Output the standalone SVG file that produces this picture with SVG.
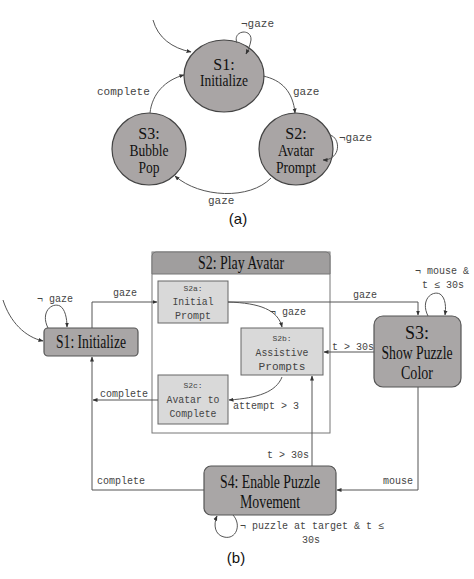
<svg xmlns="http://www.w3.org/2000/svg" width="474" height="579" viewBox="0 0 474 579">
<defs>
<marker id="ah" viewBox="0 0 10 10" refX="9" refY="5" markerWidth="5" markerHeight="5" orient="auto" markerUnits="userSpaceOnUse">
<path d="M0,1 L10,5 L0,9 z" fill="#333"/>
</marker>
</defs>
<style>
.st{fill:#a9a5a5;stroke:#444;stroke-width:1.2}
.bx{fill:#a9a6a6;stroke:#555;stroke-width:1.2}
.in{fill:#d9d9d9;stroke:#666;stroke-width:1}
.ct{fill:#fff;stroke:#777;stroke-width:1}
.hd{fill:#a09e9e;stroke:#777;stroke-width:1}
.ln{fill:none;stroke:#555;stroke-width:1;marker-end:url(#ah)}
.sr{font-family:"Liberation Serif",serif;fill:#111;text-anchor:middle}
.mo{font-family:"Liberation Mono",monospace;fill:#444}
.mc{font-family:"Liberation Mono",monospace;fill:#444;text-anchor:middle}
.cap{font-family:"Liberation Sans",sans-serif;fill:#111;text-anchor:middle;font-size:15px}
</style>
<rect width="474" height="579" fill="#fff"/>

<!-- (a) -->
<g id="a-S1"><ellipse class="st" cx="224" cy="76" rx="40" ry="36"/>
<text class="sr" x="224" y="70" font-size="16">S1:</text>
<text class="sr" x="224" y="86" font-size="16" textLength="48" lengthAdjust="spacingAndGlyphs">Initialize</text></g>
<g id="a-S2"><ellipse class="st" cx="296" cy="149" rx="37" ry="36"/>
<text class="sr" x="296" y="139" font-size="16">S2:</text>
<text class="sr" x="296" y="156" font-size="16" textLength="36" lengthAdjust="spacingAndGlyphs">Avatar</text>
<text class="sr" x="296" y="173" font-size="16" textLength="40" lengthAdjust="spacingAndGlyphs">Prompt</text></g>
<g id="a-S3"><ellipse class="st" cx="149" cy="149" rx="37" ry="36"/>
<text class="sr" x="149" y="139" font-size="16">S3:</text>
<text class="sr" x="149" y="156" font-size="16" textLength="39" lengthAdjust="spacingAndGlyphs">Bubble</text>
<text class="sr" x="149" y="173" font-size="16" textLength="21" lengthAdjust="spacingAndGlyphs">Pop</text></g>

<g id="a-connectors">
<path class="ln" d="M153,20 C158,38 172,48 191,52"/>
<path class="ln" d="M237,43 C232,30 252,28 251,40 C250,46 248,50 246,54"/>
<path class="ln" d="M263,76 C282,80 293,92 295,113"/>
<path class="ln" d="M330,135 C341,138 341,160 323,160"/>
<path class="ln" d="M271,178 C250,200 200,198 175,176"/>
<path class="ln" d="M150,113 C152,94 165,80 184,75"/>
<text class="mo" x="241" y="27" font-size="11">¬gaze</text>
<text class="mo" x="293" y="95" font-size="11">gaze</text>
<text class="mo" x="339" y="141" font-size="11">¬gaze</text>
<text class="mo" x="208" y="204" font-size="11">gaze</text>
<text class="mo" x="97" y="95" font-size="11">complete</text>
</g>
<text class="cap" x="238" y="224">(a)</text>

<!-- (b) -->
<g id="b-S2"><rect class="ct" x="152" y="252" width="178" height="181"/>
<path class="hd" d="M152,274 L152,256 Q152,252 156,252 L326,252 Q330,252 330,256 L330,274 Z"/>
<text class="sr" x="241" y="269" font-size="18" textLength="86" lengthAdjust="spacingAndGlyphs">S2: Play Avatar</text></g>
<g id="b-S2a"><rect class="in" x="158" y="281" width="70" height="42"/>
<text class="mc" x="193" y="291" font-size="8">S2a:</text>
<text class="mc" x="193" y="305" font-size="11" textLength="41" lengthAdjust="spacingAndGlyphs">Initial</text>
<text class="mc" x="193" y="319" font-size="11" textLength="36" lengthAdjust="spacingAndGlyphs">Prompt</text></g>
<g id="b-S2b"><rect class="in" x="241" y="328" width="82" height="47"/>
<text class="mc" x="282" y="341" font-size="8">S2b:</text>
<text class="mc" x="282" y="356" font-size="11" textLength="53" lengthAdjust="spacingAndGlyphs">Assistive</text>
<text class="mc" x="282" y="370" font-size="11" textLength="47" lengthAdjust="spacingAndGlyphs">Prompts</text></g>
<g id="b-S2c"><rect class="in" x="158" y="375" width="70" height="49"/>
<text class="mc" x="193" y="388" font-size="8">S2c:</text>
<text class="mc" x="193" y="403" font-size="11" textLength="53" lengthAdjust="spacingAndGlyphs">Avatar to</text>
<text class="mc" x="193" y="417" font-size="11" textLength="47" lengthAdjust="spacingAndGlyphs">Complete</text></g>
<g id="b-S1"><rect class="bx" x="44" y="328" width="94" height="28" rx="4"/>
<text class="sr" x="91" y="348" font-size="18" textLength="70" lengthAdjust="spacingAndGlyphs">S1: Initialize</text></g>
<g id="b-S3"><rect class="bx" x="374" y="316" width="87" height="71" rx="9"/>
<text class="sr" x="417" y="339" font-size="18">S3:</text>
<text class="sr" x="417" y="359" font-size="18" textLength="71" lengthAdjust="spacingAndGlyphs">Show Puzzle</text>
<text class="sr" x="417" y="379" font-size="18" textLength="32" lengthAdjust="spacingAndGlyphs">Color</text></g>
<g id="b-S4"><rect class="bx" x="204" y="466" width="132" height="49" rx="7"/>
<text class="sr" x="270" y="488" font-size="18" textLength="100" lengthAdjust="spacingAndGlyphs">S4: Enable Puzzle</text>
<text class="sr" x="270" y="508" font-size="18" textLength="60" lengthAdjust="spacingAndGlyphs">Movement</text></g>

<g id="b-connectors">
<path class="ln" d="M3,300 C10,322 25,337 43,341"/>
<path class="ln" d="M48,328 C40,312 52,302 60,306 C65,309 67,318 67,327"/>
<path class="ln" d="M92,328 L92,302 L157,302"/>
<path class="ln" d="M228,302 L418,302 L418,315"/>
<path class="ln" d="M228,302 C260,303 278,310 282,327"/>
<path class="ln" d="M428,316 C420,300 432,290 440,294 C446,298 446,308 445,315"/>
<path class="ln" d="M374,352 L324,352"/>
<path class="ln" d="M282,377 C276,392 258,398 229,400"/>
<path class="ln" d="M158,400 L93,400"/>
<path class="ln" d="M204,490 L92,490 L92,357"/>
<path class="ln" d="M418,387 L418,490 L337,490"/>
<path class="ln" d="M312,466 L312,376"/>
<path class="ln" d="M233,515 C242,525 236,540 224,537 C215,535 213,525 217,516"/>
<text class="mo" x="37" y="302" font-size="10">¬ gaze</text>
<text class="mo" x="113" y="296" font-size="10">gaze</text>
<text class="mo" x="353" y="298" font-size="10">gaze</text>
<text class="mo" x="270" y="315" font-size="10">¬ gaze</text>
<text class="mo" x="415" y="274" font-size="10">¬ mouse &amp;</text>
<text class="mo" x="422" y="288" font-size="10">t ≤ 30s</text>
<text class="mo" x="332" y="350" font-size="10">t &gt; 30s</text>
<text class="mo" x="233" y="409" font-size="10">attempt &gt; 3</text>
<text class="mo" x="100" y="397" font-size="10">complete</text>
<text class="mo" x="97" y="484" font-size="10">complete</text>
<text class="mo" x="383" y="484" font-size="10">mouse</text>
<text class="mo" x="267" y="458" font-size="10">t &gt; 30s</text>
<text class="mo" x="240" y="529" font-size="10">¬ puzzle at target &amp; t ≤</text>
<text class="mo" x="302" y="543" font-size="10">30s</text>
</g>
<text class="cap" x="236" y="563">(b)</text>
</svg>
